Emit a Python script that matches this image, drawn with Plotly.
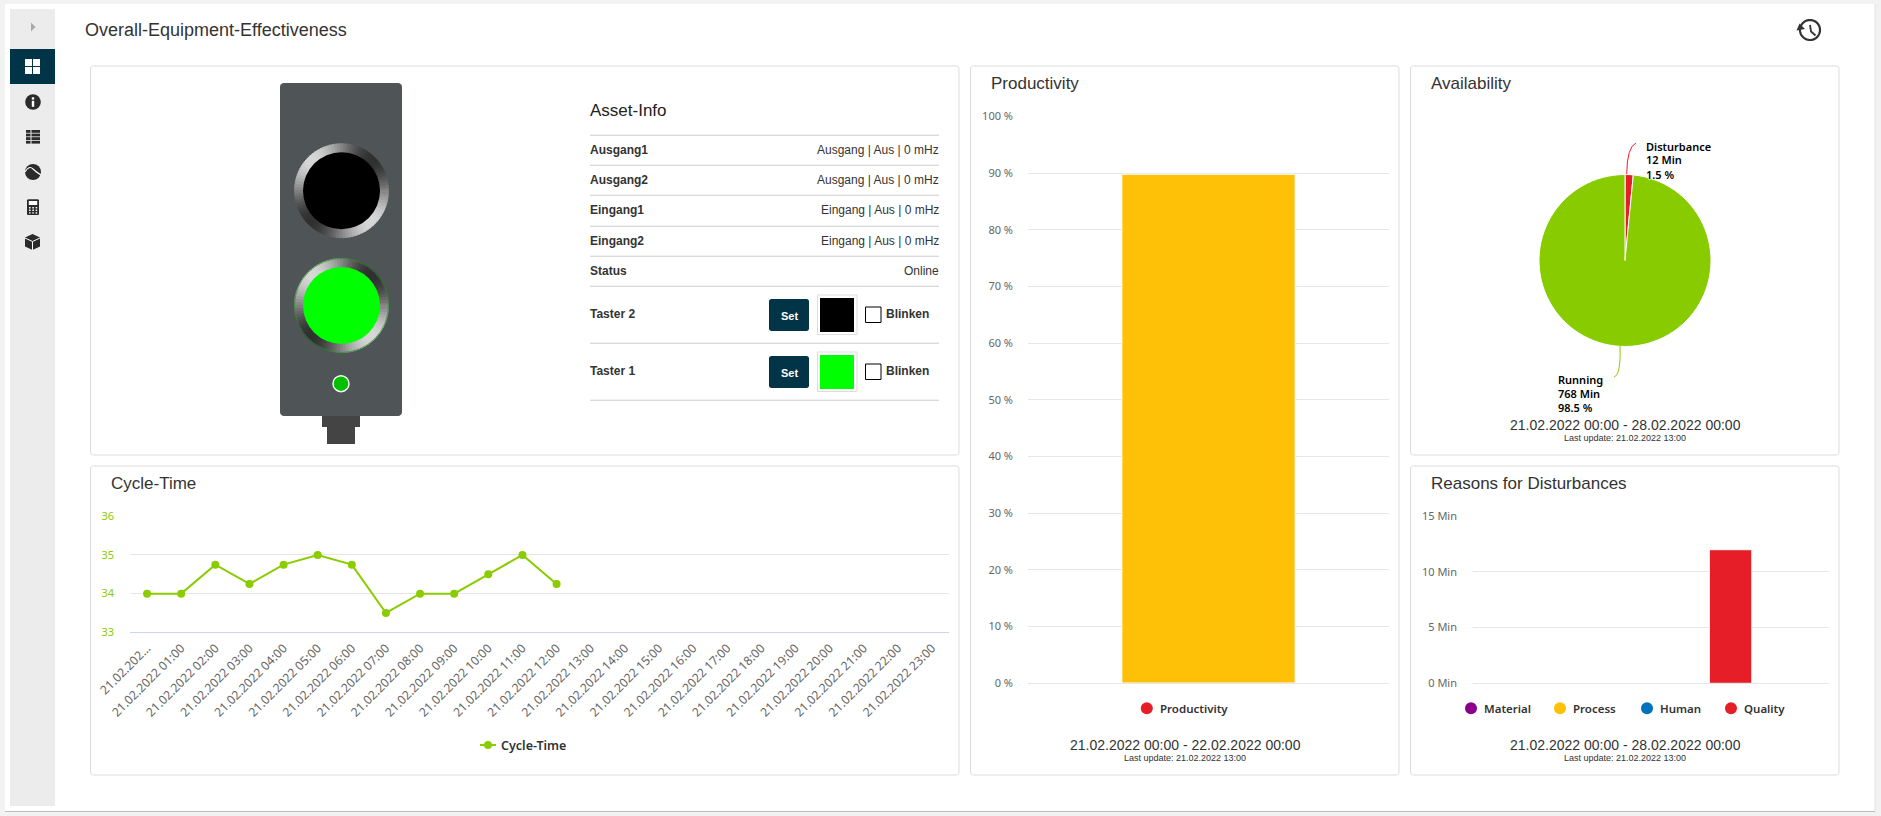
import numpy as np
import plotly.graph_objects as go

W = 1881
H = 816

# ---- chart values ----
hour_labels = [
    "21.02.202...", "21.02.2022 01:00", "21.02.2022 02:00", "21.02.2022 03:00",
    "21.02.2022 04:00", "21.02.2022 05:00", "21.02.2022 06:00", "21.02.2022 07:00",
    "21.02.2022 08:00", "21.02.2022 09:00", "21.02.2022 10:00", "21.02.2022 11:00",
    "21.02.2022 12:00", "21.02.2022 13:00", "21.02.2022 14:00", "21.02.2022 15:00",
    "21.02.2022 16:00", "21.02.2022 17:00", "21.02.2022 18:00", "21.02.2022 19:00",
    "21.02.2022 20:00", "21.02.2022 21:00", "21.02.2022 22:00", "21.02.2022 23:00",
]
cycle_times = [34, 34, 34.75, 34.25, 34.75, 35, 34.75, 33.5, 34, 34, 34.5, 35, 34.25] + [None] * 11

productivity_name = ["Productivity"]
productivity_values = [89.8]
productivity_ticks = [0, 10, 20, 30, 40, 50, 60, 70, 80, 90, 100]

availability_labels = ["Disturbance", "Running"]
availability_minutes = [12, 768]
availability_percent = ["1.5 %", "98.5 %"]

reason_names = ["Material", "Process", "Human", "Quality"]
reason_minutes = [0, 0, 0, 12]
reason_colors = ["#8b008b", "#ffc107", "#0072bc", "#e61e28"]
reason_ticks = [0, 5, 10, 15]

asset_rows = [
    ("Ausgang1", "Ausgang | Aus | 0 mHz"),
    ("Ausgang2", "Ausgang | Aus | 0 mHz"),
    ("Eingang1", "Eingang | Aus | 0 mHz"),
    ("Eingang2", "Eingang | Aus | 0 mHz"),
    ("Status", "Online"),
]

# ---- colours and fonts ----
NAVY = "#003446"
DARK = "#2b2b2b"
GREEN = "#8acc00"
GRID = "#e6e6e6"
SANS = "Liberation Sans"
CHART_FONT = "Noto Sans"

shapes = []
notes = []


def fx(x):
    return x / W


def fy(y):
    return 1 - y / H


def rect(x0, y0, x1, y1, fill, line=None, lw=1, layer="below"):
    shapes.append(dict(type="rect", xref="paper", yref="paper", x0=fx(x0), x1=fx(x1), y0=fy(y0), y1=fy(y1),
                       fillcolor=fill, line=dict(color=line or fill, width=lw if line else 0), layer=layer))


def circle(cx, cy, r, fill, line=None, lw=1, layer="below"):
    shapes.append(dict(type="circle", xref="paper", yref="paper", x0=fx(cx - r), x1=fx(cx + r), y0=fy(cy - r), y1=fy(cy + r),
                       fillcolor=fill, line=dict(color=line or fill, width=lw if line else 0), layer=layer))


def poly(points, fill=None, line=None, lw=1, close=True, layer="below"):
    d = "M " + " L ".join(f"{fx(x):.6f},{fy(y):.6f}" for x, y in points) + (" Z" if close else "")
    shapes.append(dict(type="path", xref="paper", yref="paper", path=d, fillcolor=fill or "rgba(0,0,0,0)",
                       line=dict(color=line or "rgba(0,0,0,0)", width=lw if line else 0), layer=layer))


def curve(x0, y0, cx, cy, x1, y1, color, lw=1, layer="above"):
    d = f"M {fx(x0):.6f},{fy(y0):.6f} Q {fx(cx):.6f},{fy(cy):.6f} {fx(x1):.6f},{fy(y1):.6f}"
    shapes.append(dict(type="path", xref="paper", yref="paper", path=d, line=dict(color=color, width=lw), layer=layer))


def round_rect(x0, y0, x1, y1, r, fill, line=None, lw=1):
    c = []
    for cx, cy, a0 in [(x1 - r, y0 + r, -90), (x1 - r, y1 - r, 0), (x0 + r, y1 - r, 90), (x0 + r, y0 + r, 180)]:
        for a in np.radians(np.linspace(a0, a0 + 90, 5)):
            c.append((cx + r * np.cos(a), cy + r * np.sin(a)))
    poly(c, fill=fill, line=line, lw=lw)


def text(x, y, s, size=12, color="#333333", anchor="left", weight=None, family=SANS, shadow=None):
    font = dict(family=family, size=size, color=color)
    if weight:
        font["weight"] = weight
    if shadow:
        font["shadow"] = shadow
    notes.append(dict(xref="paper", yref="paper", x=fx(x), y=fy(y), text=s, showarrow=False, xanchor=anchor,
                      yanchor="middle", font=font, borderpad=0, borderwidth=0))


def ring(cx, cy, r0, r1):
    # metal ring around the lamp, four bright/dark quadrants
    for a in range(0, 360, 4):
        t = np.radians([a, a + 4.5])
        pts = [(cx + r1 * np.cos(v), cy - r1 * np.sin(v)) for v in t]
        pts += [(cx + r0 * np.cos(v), cy - r0 * np.sin(v)) for v in t[::-1]]
        g = int(132 + 84 * np.cos(2 * (np.radians(a + 2) - np.radians(135))))
        poly(pts, fill=f"rgb({g},{g},{g})", line=f"rgb({g},{g},{g})", lw=0.8)


# ---- page frame ----
rect(5, 4, 1875, 811, "#ffffff")
rect(5, 811, 1875, 812, "#bdbdbd")
rect(1874.5, 4, 1875.5, 811, "#e2e2e2")
rect(10, 9, 55, 806, "#ececec")
poly([(31, 22.5), (35.5, 27), (31, 31.5)], fill="#aaaaaa")

# sidebar icons
rect(10, 49, 55, 84, NAVY)
rect(25, 59, 32, 66, "#ffffff")
rect(33, 59, 40, 66, "#ffffff")
rect(25, 67, 32, 74, "#ffffff")
rect(33, 67, 40, 74, "#ffffff")

circle(33, 102, 7.8, DARK)
rect(31.8, 97.3, 34.2, 99.6, "#ffffff")
rect(31.8, 100.8, 34.2, 106.8, "#ffffff")

for row in range(4):
    top = 130 + row * 3.6
    rect(26, top, 30.5, top + 2.8, DARK)
    rect(31.5, top, 40, top + 2.8, DARK)

circle(33, 172, 8, DARK)
curve(25, 172, 29, 165, 33, 169, "#ffffff", 1.1, layer="below")
curve(33, 169, 36, 172, 41, 175, "#ffffff", 1.1, layer="below")

round_rect(27, 199.3, 39, 215, 1.2, DARK)
rect(28.8, 201, 37.2, 205, "#ffffff")
for by in (207, 209.6, 212.2):
    for bx in (29, 32.3, 35.6):
        rect(bx, by, bx + 1.6, by + 1.4, "#ffffff")

poly([(32.5, 234), (40, 237.5), (40, 246.5), (32.5, 250), (25, 246.5), (25, 237.5)], fill=DARK)
poly([(25, 238), (32.5, 241.5), (40, 238)], line="#ffffff", lw=1, close=False)
poly([(32.5, 241.5), (32.5, 250)], line="#ffffff", lw=1, close=False)

# history icon in the top right corner
arc = np.radians(np.linspace(165, -200, 50))
poly([(1810 + 10 * np.cos(a), 30 - 10 * np.sin(a)) for a in arc], line="#333333", lw=2.2, close=False)
poly([(1799.5, 23.5), (1796.5, 30.5), (1805, 29)], fill="#333333")
poly([(1810, 25), (1811, 31.5), (1815.5, 35.5)], line="#333333", lw=1.8, close=False)

# cards
round_rect(90.5, 66, 959, 455, 3, "#ffffff", line="#dddddd")
round_rect(90.5, 466, 959, 775, 3, "#ffffff", line="#dddddd")
round_rect(970.5, 66, 1399, 775, 3, "#ffffff", line="#dddddd")
round_rect(1410.5, 66, 1839, 455, 3, "#ffffff", line="#dddddd")
round_rect(1410.5, 466, 1839, 775, 3, "#ffffff", line="#dddddd")

text(85, 30.5, "Overall-Equipment-Effectiveness", size=18, color="#333333")
text(111, 483.5, "Cycle-Time", size=17, color="#333333")
text(990.5, 83.5, "Productivity", size=17, color="#333333")
text(1431, 83.5, "Availability", size=17, color="#333333")
text(1431, 483.5, "Reasons for Disturbances", size=17, color="#333333")

# ---- signal light ----
round_rect(280, 83, 402, 416, 4, "#4f5456")
rect(322, 416, 360, 427, "#444444")
rect(327, 427, 355, 444, "#444444")
ring(341.5, 190.7, 37, 47)
circle(341.5, 190.7, 38.5, "#000000")
ring(341.5, 305.5, 37, 47)
circle(341.5, 305.5, 47, "rgba(0,0,0,0)", line="#1f9a1f", lw=0.7)
circle(341.5, 305.5, 38.5, "#00ff00")
circle(341, 383.7, 8, "#00c000", line="#ffffff", lw=1.4)

# ---- asset info ----
text(590, 110.5, "Asset-Info", size=17, color="#222222")
for ly in (135.3, 165.3, 195.3, 226.3, 256.3, 286.3, 343.3, 400.3):
    rect(590, ly - 0.5, 939, ly + 0.5, "#cccccc")
for (name, val), ry in zip(asset_rows, (150, 180, 210, 241, 271)):
    text(590, ry, name, size=12, color="#333333", weight="bold")
    text(939, ry, val, size=12, color="#333333", anchor="right")

for name, ry, swatch in (("Taster 2", 314.5, "#000000"), ("Taster 1", 371.5, "#00ff00")):
    text(590, ry - 1, name, size=12, color="#333333", weight="bold")
    round_rect(769, ry - 15.5, 809, ry + 16.5, 2.5, NAVY)
    text(789, ry + 1, "Set", size=11, color="#ffffff", anchor="center", weight="bold")
    rect(817.5, ry - 19.5, 857, ry + 20, "#ffffff", line="#dddddd")
    rect(820, ry - 16.5, 854, ry + 17.5, swatch)
    rect(865.5, ry - 7.5, 881, ry + 8, "#ffffff", line="#000000")
    text(886, ry - 0.5, "Blinken", size=12, color="#333333", weight="bold")

# ---- date footers ----
for cx, big_y, small_y, span in (
    (1185, 744.5, 757.7, "21.02.2022 00:00 - 22.02.2022 00:00"),
    (1625, 425, 437.7, "21.02.2022 00:00 - 28.02.2022 00:00"),
    (1625, 744.5, 757.7, "21.02.2022 00:00 - 28.02.2022 00:00"),
):
    text(cx, big_y, span, size=14, color="#333333", anchor="center")
    text(cx, small_y, "Last update: 21.02.2022 13:00", size=9, color="#333333", anchor="center")

# ---- legends ----
LEG = dict(size=11.5, color="#333333", weight=600, family=CHART_FONT)
shapes.append(dict(type="line", xref="paper", yref="paper", x0=fx(480), x1=fx(496), y0=fy(745), y1=fy(745),
                   line=dict(color=GREEN, width=2)))
circle(488, 745, 4, GREEN, layer="above")
text(501, 745, "Cycle-Time", size=12.5, color="#333333", weight=600, family=CHART_FONT)

circle(1146.8, 708.3, 6, "#e61e28", layer="above")
text(1160, 708.3, productivity_name[0], **LEG)

for name, color, mx, tx in zip(reason_names, reason_colors, (1471, 1560, 1647, 1731), (1484, 1573, 1660, 1744)):
    circle(mx, 708.3, 6, color, layer="above")
    text(tx, 708.3, name, **LEG)

# ---- pie labels ----
HALO = "1px 0 1px #fff, -1px 0 1px #fff, 0 1px 1px #fff, 0 -1px 1px #fff"
PIE = dict(size=11, color="#000000", weight=600, family=CHART_FONT, shadow=HALO)
curve(1626.7, 174, 1627, 147, 1636, 143, "#e61e28")
curve(1620, 346, 1621, 375, 1614, 377, GREEN)
for (x0, y0), name, minutes, pct in zip(((1646.3, 146), (1558, 379)), availability_labels,
                                         availability_minutes, availability_percent):
    text(x0, y0, name, **PIE)
    text(x0, y0 + 14, f"{minutes} Min", **PIE)
    text(x0, y0 + 28, pct, **PIE)

# ---- figure ----
fig = go.Figure()

fig.add_trace(go.Scatter(
    x=hour_labels[:len(cycle_times)], y=cycle_times, mode="lines+markers", connectgaps=False,
    line=dict(color=GREEN, width=2), marker=dict(color=GREEN, size=8),
    xaxis="x", yaxis="y", showlegend=False,
))

fig.add_trace(go.Bar(
    x=productivity_name, y=productivity_values, width=0.48,
    marker=dict(color="#ffc107", line=dict(color="#ffffff", width=1)),
    xaxis="x2", yaxis="y2", showlegend=False,
))

fig.add_trace(go.Pie(
    labels=availability_labels, values=availability_minutes, sort=False, direction="clockwise", rotation=0,
    textinfo="none", marker=dict(colors=["#e61e28", "#88cc00"], line=dict(color="#ffffff", width=1)),
    domain=dict(x=[fx(1625 - 86), fx(1625 + 86)], y=[fy(260.5 + 86), fy(260.5 - 86)]),
    showlegend=False,
))

for name, minutes, color in zip(reason_names, reason_minutes, reason_colors):
    fig.add_trace(go.Bar(
        x=["Reasons"], y=[minutes], name=name,
        marker=dict(color=color, line=dict(color="#ffffff", width=1)),
        xaxis="x3", yaxis="y3", showlegend=False,
    ))

tick = dict(family=CHART_FONT, size=11, color="#666666")

fig.update_layout(
    width=W, height=H, margin=dict(l=0, r=0, t=0, b=0), autosize=False,
    paper_bgcolor="#f2f2f2", plot_bgcolor="rgba(0,0,0,0)",
    barmode="group", bargap=0.404, bargroupgap=0.2,
    shapes=shapes, annotations=notes,
    xaxis=dict(
        domain=[fx(130), fx(949)], anchor="y", type="category", categoryorder="array", categoryarray=hour_labels,
        tickmode="array", tickvals=hour_labels, ticktext=hour_labels, range=[-0.5, 23.5],
        tickangle=-45, tickfont=dict(family=CHART_FONT, size=12.2, color="#666666"), showgrid=False,
        showline=True, linecolor="#ccd6eb", linewidth=1, ticks="", ticklabelstandoff=3, automargin=False,
    ),
    yaxis=dict(
        domain=[fy(632.3), fy(516.3)], anchor="x", range=[33, 36], tickvals=[33, 34, 35, 36],
        tickfont=dict(family=CHART_FONT, size=11, color=GREEN), gridcolor=GRID, gridwidth=1, zeroline=False,
        ticks="", ticklabelstandoff=15, automargin=False,
    ),
    xaxis2=dict(
        domain=[fx(1028), fx(1389)], anchor="y2", showticklabels=False, showgrid=False, showline=True,
        linecolor=GRID, ticks="", automargin=False,
    ),
    yaxis2=dict(
        domain=[fy(683), fy(116.5)], anchor="x2", range=[0, 100], tickvals=productivity_ticks,
        ticktext=[f"{v} %" for v in productivity_ticks],
        tickfont=tick, gridcolor=GRID, zeroline=False, ticks="", ticklabelstandoff=14, automargin=False,
    ),
    xaxis3=dict(
        domain=[fx(1473), fx(1829)], anchor="y3", showticklabels=False, showgrid=False, showline=True,
        linecolor=GRID, ticks="", automargin=False,
    ),
    yaxis3=dict(
        domain=[fy(683.3), fy(516.3)], anchor="x3", range=[0, 15], tickvals=reason_ticks,
        ticktext=[f"{v} Min" for v in reason_ticks],
        tickfont=tick, gridcolor=GRID, zeroline=False, ticks="", ticklabelstandoff=15, automargin=False,
    ),
)

fig.write_html(
    "out.html",
    config=dict(displayModeBar=False),
    post_script="document.body.style.margin='0';document.documentElement.style.overflow='hidden';",
)
